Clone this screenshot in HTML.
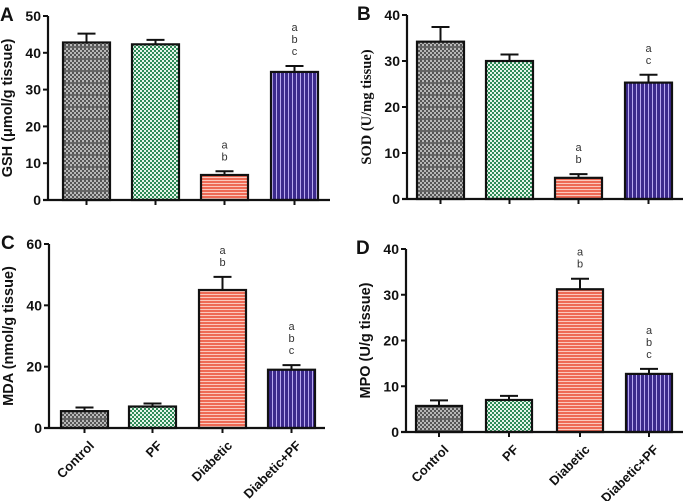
<!DOCTYPE html>
<html><head><meta charset="utf-8"><style>
html,body{margin:0;padding:0;background:#fff;}
svg{display:block;font-family:"Liberation Sans",sans-serif;}
</style></head><body>
<svg id="chart" width="685" height="501" viewBox="0 0 685 501">
<defs>
<pattern id="pGray" width="4" height="12" patternUnits="userSpaceOnUse">
<rect width="4" height="12" fill="#b8b8b8"/><rect width="2" height="2" fill="#555"/><rect x="2" y="2" width="2" height="2" fill="#555"/><rect y="4" width="2" height="2" fill="#555"/><rect x="2" y="6" width="2" height="2" fill="#555"/><rect y="8" width="2" height="2" fill="#555"/><rect y="10" width="4" height="2" fill="#666"/>
</pattern>
<pattern id="pGreen" width="4" height="4" patternUnits="userSpaceOnUse">
<rect width="4" height="4" fill="#e6f5ea"/><rect width="2" height="2" fill="#2e8b57"/><rect x="2" y="2" width="2" height="2" fill="#2e8b57"/>
</pattern>
<pattern id="pRed" width="4" height="3" patternUnits="userSpaceOnUse">
<rect width="4" height="3" fill="#ee6a55"/><rect width="4" height="1" fill="#fbc8bd"/>
</pattern>
<pattern id="pPurple" width="4" height="4" patternUnits="userSpaceOnUse">
<rect width="4" height="4" fill="#3c2a8c"/><rect width="1" height="4" fill="#b8a8f0"/>
</pattern>
</defs>
<g id="root"></g>
</svg>
<script>
const categories = ["Control","PF","Diabetic","Diabetic+PF"];
const gshValues = [42.8, 42.3, 6.8, 34.8];
const gshErrors = [2.4, 1.2, 1.0, 1.6];
const gshSig = ["", "", "a b", "a b c"];
const sodValues = [34.2, 30.0, 4.6, 25.3];
const sodErrors = [3.2, 1.4, 0.8, 1.7];
const sodSig = ["", "", "a b", "a c"];
const mdaValues = [5.5, 7.0, 45.0, 19.0];
const mdaErrors = [1.2, 1.0, 4.3, 1.5];
const mdaSig = ["", "", "a b", "a b c"];
const mpoValues = [5.7, 7.0, 31.2, 12.7];
const mpoErrors = [1.2, 0.9, 2.3, 1.1];
const mpoSig = ["", "", "a b", "a b c"];
const gshTicks = [0,10,20,30,40,50];
const sodTicks = [0,10,20,30,40];
const mdaTicks = [0,20,40,60];
const mpoTicks = [0,10,20,30,40];

const NS = "http://www.w3.org/2000/svg";
const root = document.getElementById('root');
const fills = ["url(#pGray)","url(#pGreen)","url(#pRed)","url(#pPurple)"];
function mk(tag, attrs, parent, text){
  const e = document.createElementNS(NS, tag);
  for (const k in attrs) e.setAttribute(k, attrs[k]);
  if (text !== undefined) e.textContent = text;
  parent.appendChild(e);
  return e;
}
const panels = [
 {id:"a", letter:"A", ax:48, x1:330, y0:200, yTop:16, max:50, ticks:gshTicks, vals:gshValues, errs:gshErrors, sig:gshSig, bars:[63,132,201,271], bw:47, title:"GSH (\u03bcmol/g tissue)", serif:false, labels:false},
 {id:"b", letter:"B", ax:407, x1:683, y0:199, yTop:15, max:40, ticks:sodTicks, vals:sodValues, errs:sodErrors, sig:sodSig, bars:[417,486,555,625], bw:47, title:"SOD (U/mg tissue)", serif:true, labels:false},
 {id:"c", letter:"C", ax:49, x1:325, y0:428, yTop:244, max:60, ticks:mdaTicks, vals:mdaValues, errs:mdaErrors, sig:mdaSig, bars:[61,129,199,268], bw:47, title:"MDA (nmol/g tissue)", serif:false, labels:true},
 {id:"d", letter:"D", ax:406, x1:683, y0:432, yTop:249, max:40, ticks:mpoTicks, vals:mpoValues, errs:mpoErrors, sig:mpoSig, bars:[416,486,557,626], bw:46, title:"MPO (U/g tissue)", serif:false, labels:true}
];
panels.forEach(p => {
  const g = mk('g', {}, root);
  
  
  const y = v => p.y0 - (v / p.max) * (p.y0 - p.yTop);
  const lt = mk('text', {x: p.ax - 48 + (p.id==='b'||p.id==='d' ? -2 : 0), y: p.yTop + 5, 'font-size': 19, 'font-weight': 'bold', fill: '#111'}, g, p.letter);
  
  
  p.vals.forEach((v, i) => {
    const bx = p.bars[i], cx = bx + p.bw / 2;
    const top = y(v), et = y(v + p.errs[i]);
    const el = mk('line', {x1: cx, x2: cx, y1: top, y2: et, stroke: '#111', 'stroke-width': 2}, g);
    
    
    const cap = mk('line', {x1: cx - 9, x2: cx + 9, y1: et, y2: et, stroke: '#111', 'stroke-width': 2}, g);
    
    
    const r = mk('rect', {x: bx, y: top, width: p.bw, height: p.y0 - top, fill: fills[i], stroke: '#111', 'stroke-width': 2.2}, g);
    
    
    const letters = p.sig[i] ? p.sig[i].split(' ') : [];
    letters.forEach((s, k) => {
      const t = mk('text', {x: cx, y: et - 11 - (letters.length - 1 - k) * 12, 'font-size': 11, 'text-anchor': 'middle', fill: '#333'}, g, s);
      
      
    });
    const tk = mk('line', {x1: cx, x2: cx, y1: p.y0, y2: p.y0 + 5, stroke: '#111', 'stroke-width': 2}, g);
    
    
    if (p.labels) {
      const lx = cx + 4, ly = p.y0 + 12;
      const t = mk('text', {x: lx, y: ly, 'font-size': 13, 'font-weight': 'bold', 'text-anchor': 'end', fill: '#111', transform: 'rotate(-45 ' + lx + ' ' + ly + ')', dy: '0.7em'}, g, categories[i]);
      
      
    }
  });
  const ya = mk('line', {x1: p.ax, x2: p.ax, y1: p.yTop, y2: p.y0 + 1, stroke: '#111', 'stroke-width': 2.2}, g);
  
  
  const xa = mk('line', {x1: p.ax - 5, x2: p.x1, y1: p.y0, y2: p.y0, stroke: '#111', 'stroke-width': 2.2}, g);
  
  
  p.ticks.forEach(tv => {
    const ty = y(tv);
    const tl = mk('line', {x1: p.ax - 5, x2: p.ax, y1: ty, y2: ty, stroke: '#111', 'stroke-width': 2}, g);
    
    
    const tt = mk('text', {x: p.ax - 7, y: ty + 5, 'font-size': 14, 'font-weight': 'bold', 'text-anchor': 'end', fill: '#111'}, g, String(tv));
    
    
  });
  const tcx = p.ax - 36, tcy = (p.y0 + p.yTop) / 2;
  const yt = mk('text', {x: tcx, y: tcy, 'font-size': 14.5, 'font-weight': 'bold', 'text-anchor': 'middle', fill: '#111', transform: 'rotate(-90 ' + tcx + ' ' + tcy + ')', 'font-family': p.serif ? '"Liberation Serif", serif' : '"Liberation Sans", sans-serif'}, g, p.title);
  
  
});
</script>
</body></html>
